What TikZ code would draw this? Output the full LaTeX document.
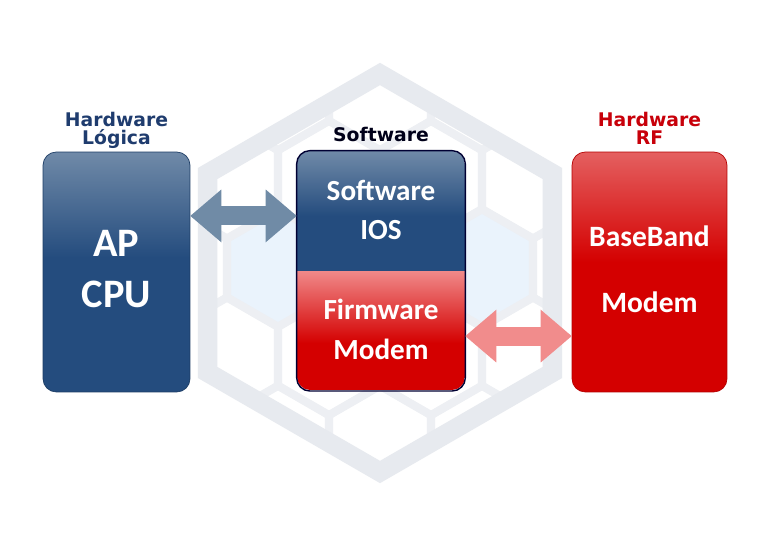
\documentclass[tikz,border=0pt]{standalone}
\usepackage{fontspec}
\setmainfont{Carlito}
\newfontfamily\tagfont{DejaVu Sans}
\usetikzlibrary{positioning,arrows.meta}

\definecolor{apblue}{RGB}{36,76,126}
\definecolor{apbluetop}{RGB}{112,138,168}
\definecolor{rfred}{RGB}{212,0,0}
\definecolor{rfredtop}{RGB}{228,96,96}
\definecolor{fwredtop}{RGB}{240,136,136}
\definecolor{linkblue}{RGB}{112,139,166}
\definecolor{linkred}{RGB}{241,140,140}
\definecolor{tagblue}{RGB}{31,60,110}
\definecolor{tagred}{RGB}{200,0,10}
\definecolor{hexband}{RGB}{231,234,239}
\definecolor{hexgray}{RGB}{237,239,243}
\definecolor{hexblue}{RGB}{234,243,252}

\pgfdeclareverticalshading{apshade}{100bp}{color(0bp)=(apblue); color(53bp)=(apblue); color(75bp)=(apbluetop); color(100bp)=(apbluetop)}
\pgfdeclareverticalshading{rfshade}{100bp}{color(0bp)=(rfred); color(52bp)=(rfred); color(75bp)=(rfredtop); color(100bp)=(rfredtop)}
\pgfdeclareverticalshading{iosshade}{100bp}{color(0bp)=(apblue); color(48bp)=(apblue); color(75bp)=(apbluetop); color(100bp)=(apbluetop)}
\pgfdeclareverticalshading{fwshade}{100bp}{color(0bp)=(rfred); color(45bp)=(rfred); color(75bp)=(fwredtop); color(100bp)=(fwredtop)}

\begin{document}
\begin{tikzpicture}[x=0.02cm, y=-0.02cm,
    boxtext/.style={text=white, font=\bfseries, align=center, inner sep=0pt, text depth=0pt},
    apbox/.style={boxtext, rounded corners=7.5pt, draw=apblue!80!black, line width=0.4pt, shading=apshade},
    rfbox/.style={boxtext, rounded corners=7.5pt, draw=rfred!85!black, line width=0.4pt, shading=rfshade},
    halfbox/.style={boxtext, minimum width=3.36cm, font=\bfseries\fontsize{16.6}{22.7}\selectfont},
    tag/.style={font=\tagfont\bfseries\fontsize{10.7}{10.4}\selectfont, align=center, inner sep=0pt},
    hexline/.style={hexgray, line width=4.5pt, line join=round},
    bluelink/.style={draw=linkblue, line width=10.8pt,
        {Triangle[length=17.6pt, width=30pt, line width=0pt]}-{Triangle[length=17.6pt, width=30pt, line width=0pt]}},
    redlink/.style={bluelink, draw=linkred}]

\path[use as bounding box, fill=white] (0,0) rectangle (768,543);

% honeycomb in the back
\fill[hexblue] (278,268) +(30:56) -- +(90:56) -- +(150:56) -- +(210:56) -- +(270:56) -- +(330:56) -- cycle;
\fill[hexblue] (482,268) +(30:56) -- +(90:56) -- +(150:56) -- +(210:56) -- +(270:56) -- +(330:56) -- cycle;
\begin{scope}
  \clip (380,273) +(30:192) -- +(90:192) -- +(150:192) -- +(210:192) -- +(270:192) -- +(330:192) -- cycle;
  \foreach \row in {-3,...,3}
    \foreach \col in {-3,...,3} {
      \pgfmathsetmacro\cx{380+102*\col+51*abs(mod(\row,2))}
      \pgfmathsetmacro\cy{268+88.3*\row}
      \draw[hexline] (\cx,\cy) +(30:59) -- +(90:59) -- +(150:59) -- +(210:59) -- +(270:59) -- +(330:59) -- cycle;
    }
\end{scope}
\draw[hexband, line width=11pt, line join=miter]
  (380,273) +(30:199) -- +(90:199) -- +(150:199) -- +(210:199) -- +(270:199) -- +(330:199) -- cycle;

% boxes
\node[apbox, minimum width=2.94cm, minimum height=4.8cm, font=\bfseries\fontsize{23}{29}\selectfont,
    text height=40.8pt] (cpu) at (116.5,272) {AP\\CPU};
\node[rfbox, minimum width=3.1cm, minimum height=4.8cm, font=\bfseries\fontsize{16.8}{37.4}\selectfont,
    text height=46pt] (bb) at (649.5,272) {BaseBand\\Modem};

\begin{scope}
  \clip[rounded corners=7.5pt] (297,151) rectangle (465,390);
  \node[halfbox, minimum height=2.4cm, shading=iosshade, text height=32.9pt] (sw) at (381,211) {Software\\IOS};
  \node[halfbox, minimum height=2.38cm, shading=fwshade, text height=32.3pt, below=0pt of sw] (fw) {Firmware\\Modem};
\end{scope}
\draw[rounded corners=7.5pt, draw=black!80!blue, line width=0.8pt] (sw.north west) rectangle (fw.south east);

% titles
\node[tag, text=tagblue, above=1.4pt of cpu] (cputag) {Hardware\\Lógica};
\node[tag, text=black!90!blue, above=5pt of sw] (swtag) {Software};
\node[tag, text=tagred, above=4pt of bb] (bbtag) {Hardware\\RF};

% links
\coordinate (ioslink) at ([yshift=-2.8pt]sw.west);
\coordinate (fwlink) at ([yshift=-2.8pt]fw.east);
\draw[bluelink] (cpu.east |- ioslink) -- (ioslink);
\draw[redlink] (fwlink) -- (bb.west |- fwlink);

\end{tikzpicture}
\end{document}
